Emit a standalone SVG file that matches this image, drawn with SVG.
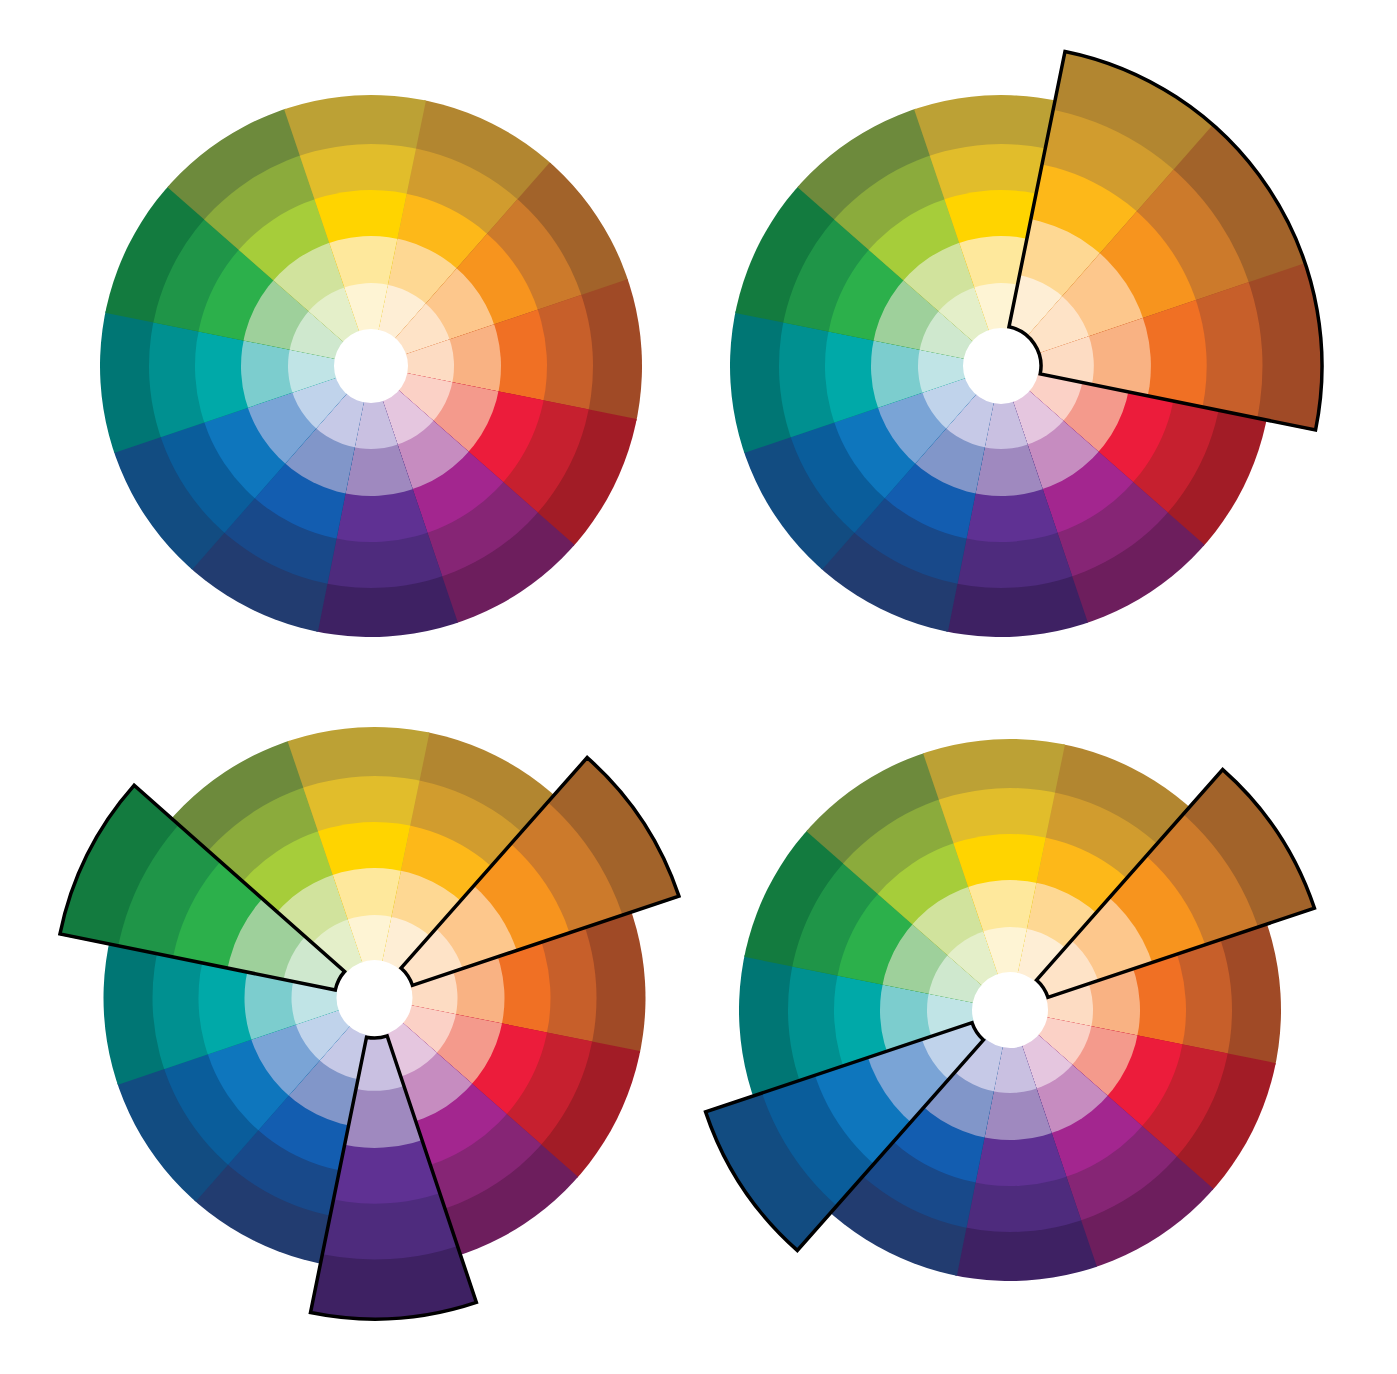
<svg xmlns="http://www.w3.org/2000/svg" xmlns:xlink="http://www.w3.org/1999/xlink" width="1397" height="1374" viewBox="0 0 1397 1374">
<style>
.o{fill:none;stroke:#000;stroke-width:3.5;stroke-linejoin:miter}
.hole{fill:#fff}
</style>
<defs>
<clipPath id="w"><polygon points="0,0 -108.68,-400 108.68,-400"/></clipPath>
<g id="wheel">
<g transform="rotate(26.5)" clip-path="url(#w)"><circle r="271" fill="#b28630"/><circle r="222" fill="#d19c2e"/><circle r="176" fill="#fdb819"/><circle r="130" fill="#fed893"/><circle r="83" fill="#feeed5"/></g>
<g transform="rotate(56.5)" clip-path="url(#w)"><circle r="271" fill="#a2632a"/><circle r="222" fill="#cc7a2b"/><circle r="176" fill="#f7941e"/><circle r="130" fill="#fdc78c"/><circle r="83" fill="#fee3c7"/></g>
<g transform="rotate(86.5)" clip-path="url(#w)"><circle r="271" fill="#a04a26"/><circle r="222" fill="#c75f2a"/><circle r="176" fill="#f07024"/><circle r="130" fill="#f9b283"/><circle r="83" fill="#fddcc3"/></g>
<g transform="rotate(116.5)" clip-path="url(#w)"><circle r="271" fill="#a21c26"/><circle r="222" fill="#c6202f"/><circle r="176" fill="#ec1c3b"/><circle r="130" fill="#f49a8c"/><circle r="83" fill="#fbd1c6"/></g>
<g transform="rotate(146.5)" clip-path="url(#w)"><circle r="271" fill="#6d1e5d"/><circle r="222" fill="#862575"/><circle r="176" fill="#a3268f"/><circle r="130" fill="#c68cc0"/><circle r="83" fill="#e5c6df"/></g>
<g transform="rotate(176.5)" clip-path="url(#w)"><circle r="271" fill="#3e2163"/><circle r="222" fill="#4e2b7d"/><circle r="176" fill="#5f3193"/><circle r="130" fill="#9f89bf"/><circle r="83" fill="#c9c0e1"/></g>
<g transform="rotate(206.5)" clip-path="url(#w)"><circle r="271" fill="#223c70"/><circle r="222" fill="#18498a"/><circle r="176" fill="#135db0"/><circle r="130" fill="#8196c9"/><circle r="83" fill="#c6c9e7"/></g>
<g transform="rotate(236.5)" clip-path="url(#w)"><circle r="271" fill="#124c81"/><circle r="222" fill="#0a5d9b"/><circle r="176" fill="#0e76bd"/><circle r="130" fill="#7aa4d6"/><circle r="83" fill="#c0d3eb"/></g>
<g transform="rotate(266.5)" clip-path="url(#w)"><circle r="271" fill="#007674"/><circle r="222" fill="#009090"/><circle r="176" fill="#00a9a8"/><circle r="130" fill="#7ccdce"/><circle r="83" fill="#c0e4e6"/></g>
<g transform="rotate(296.5)" clip-path="url(#w)"><circle r="271" fill="#137b3f"/><circle r="222" fill="#1f9548"/><circle r="176" fill="#2cb04b"/><circle r="130" fill="#9ed09b"/><circle r="83" fill="#cfe8ce"/></g>
<g transform="rotate(326.5)" clip-path="url(#w)"><circle r="271" fill="#6d8a3c"/><circle r="222" fill="#8bab3c"/><circle r="176" fill="#a6cd3a"/><circle r="130" fill="#d1e39d"/><circle r="83" fill="#e4efc9"/></g>
<g transform="rotate(356.5)" clip-path="url(#w)"><circle r="271" fill="#bca135"/><circle r="222" fill="#e1bd2b"/><circle r="176" fill="#ffd400"/><circle r="130" fill="#fee89c"/><circle r="83" fill="#fef4d4"/></g>
<circle r="37" class="hole"/>
</g>
<g id="h-yo" transform="rotate(26.5)" clip-path="url(#w)"><circle r="321" fill="#b28630"/><circle r="261.5" fill="#d19c2e"/><circle r="205.7" fill="#fdb819"/><circle r="149.9" fill="#fed893"/><circle r="92.8" fill="#feeed5"/><circle r="40" fill="#fff"/></g>
<g id="h-o" transform="rotate(56.5)" clip-path="url(#w)"><circle r="321" fill="#a2632a"/><circle r="261.5" fill="#cc7a2b"/><circle r="205.7" fill="#f7941e"/><circle r="149.9" fill="#fdc78c"/><circle r="92.8" fill="#fee3c7"/><circle r="40" fill="#fff"/></g>
<g id="h-ro" transform="rotate(86.5)" clip-path="url(#w)"><circle r="321" fill="#a04a26"/><circle r="261.5" fill="#c75f2a"/><circle r="205.7" fill="#f07024"/><circle r="149.9" fill="#f9b283"/><circle r="92.8" fill="#fddcc3"/><circle r="40" fill="#fff"/></g>
<g id="h-v" transform="rotate(176.5)" clip-path="url(#w)"><circle r="321" fill="#3e2163"/><circle r="261.5" fill="#4e2b7d"/><circle r="205.7" fill="#5f3193"/><circle r="149.9" fill="#9f89bf"/><circle r="92.8" fill="#c9c0e1"/><circle r="40" fill="#fff"/></g>
<g id="h-b" transform="rotate(236.5)" clip-path="url(#w)"><circle r="321" fill="#124c81"/><circle r="261.5" fill="#0a5d9b"/><circle r="205.7" fill="#0e76bd"/><circle r="149.9" fill="#7aa4d6"/><circle r="92.8" fill="#c0d3eb"/><circle r="40" fill="#fff"/></g>
<g id="h-g" transform="rotate(296.5)" clip-path="url(#w)"><circle r="321" fill="#137b3f"/><circle r="261.5" fill="#1f9548"/><circle r="205.7" fill="#2cb04b"/><circle r="149.9" fill="#9ed09b"/><circle r="92.8" fill="#cfe8ce"/><circle r="40" fill="#fff"/></g>
<path id="o1" d="M-10.353,-38.637 L-83.081,-310.062 A321,321 0 0 1 83.081,-310.062 L10.353,-38.637 A40,40 0 0 0 -10.353,-38.637 Z"/>
<path id="o3" d="M-28.284,-28.284 L-226.981,-226.981 A321,321 0 0 1 226.981,-226.981 L28.284,-28.284 A40,40 0 0 0 -28.284,-28.284 Z"/>
</defs>
<rect width="1397" height="1374" fill="#fff"/>
<g id="wheel-top-left" transform="translate(371,366)">
<use href="#wheel"/>
</g>
<g id="wheel-top-right" transform="translate(1001,366)">
<use href="#wheel"/>
<use href="#h-yo"/><use href="#h-o"/><use href="#h-ro"/>
<circle r="38" class="hole"/>
<use href="#o3" class="o" transform="rotate(56.5)"/>
</g>
<g id="wheel-bottom-left" transform="translate(374.5,998)">
<use href="#wheel"/>
<use href="#h-g"/><use href="#h-o"/><use href="#h-v"/>
<circle r="38" class="hole"/>
<use href="#o1" class="o" transform="rotate(296.5)"/>
<use href="#o1" class="o" transform="rotate(56.5)"/>
<use href="#o1" class="o" transform="rotate(176.5)"/>
</g>
<g id="wheel-bottom-right" transform="translate(1010,1010)">
<use href="#wheel"/>
<use href="#h-o"/><use href="#h-b"/>
<circle r="38" class="hole"/>
<use href="#o1" class="o" transform="rotate(56.5)"/>
<use href="#o1" class="o" transform="rotate(236.5)"/>
</g>
</svg>
